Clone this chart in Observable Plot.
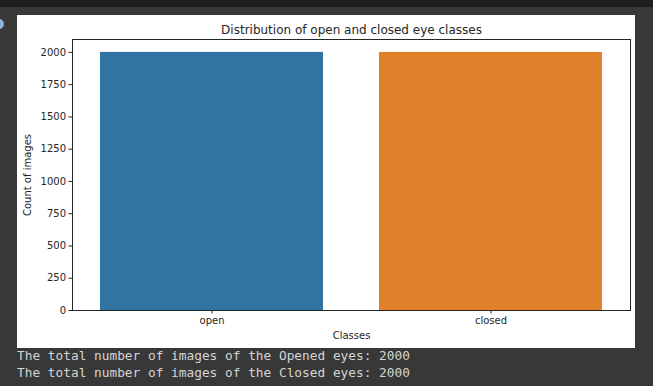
<!DOCTYPE html>
<html>
<head>
<meta charset="utf-8">
<script src="https://cdn.jsdelivr.net/npm/d3@7"></script>
<script src="https://cdn.jsdelivr.net/npm/@observablehq/plot@0.6"></script>
<style>
  html, body { margin:0; padding:0; width:653px; height:386px; overflow:hidden; background:#383838; }
  #topbar { position:absolute; left:0; top:0; width:653px; height:7px; background:#1f1f1f; }
  #dot { position:absolute; left:-6px; top:19px; width:10px; height:10px; border-radius:50%; background:#8fb3e0; }
  #card { position:absolute; left:17px; top:15px; width:618px; height:333px; background:#fff; }
  #out { position:absolute; left:17px; top:347px; margin:0; font-family:"DejaVu Sans Mono", monospace; font-size:12.8px; line-height:17px; color:#d4d4d4; white-space:pre; }
</style>
</head>
<body>
<div id="topbar"></div>
<div id="dot"></div>
<div id="card"></div>
<pre id="out"></pre>
<script>
const categories = ["open", "closed"];
const counts = [2000, 2000];
const colors = ["#3274a1", "#e1812c"];
const yTicks = [0, 250, 500, 750, 1000, 1250, 1500, 1750, 2000];
const title = "Distribution of open and closed eye classes";
const outputLines = [
  "The total number of images of the Opened eyes: 2000",
  "The total number of images of the Closed eyes: 2000"
];

const data = categories.map((c, i) => ({cls: c, count: counts[i]}));

const chart = Plot.plot({
  width: 618,
  height: 333,
  marginLeft: 55,
  marginTop: 24,
  marginRight: 5,
  marginBottom: 38,
  style: {fontFamily: "DejaVu Sans", fontSize: "10px", color: "#262626", background: "white", overflow: "visible"},
  x: {domain: categories, paddingInner: 0.2, paddingOuter: 0.1},
  y: {domain: [0, 2100]},
  color: {domain: categories, range: colors},
  marks: [
    Plot.barY(data, {x: "cls", y: "count", fill: "cls"}),
    Plot.frame({stroke: "#262626", strokeWidth: 1}),
    Plot.axisY({ticks: yTicks, tickFormat: d => String(d), tickSize: 3.5, tickPadding: 3, label: "Count of images", labelAnchor: "center", labelArrow: "none", labelOffset: 49, fontSize: 10}),
    Plot.axisX({tickSize: 3.5, tickPadding: 3, label: "Classes", labelAnchor: "center", labelArrow: "none", labelOffset: 28, fontSize: 10}),
    Plot.text([title], {frameAnchor: "top", dy: -14, fontSize: 12, fill: "#262626"})
  ]
});
document.getElementById("card").appendChild(chart);
document.getElementById("out").textContent = outputLines.join("\n");
</script>
</body>
</html>
